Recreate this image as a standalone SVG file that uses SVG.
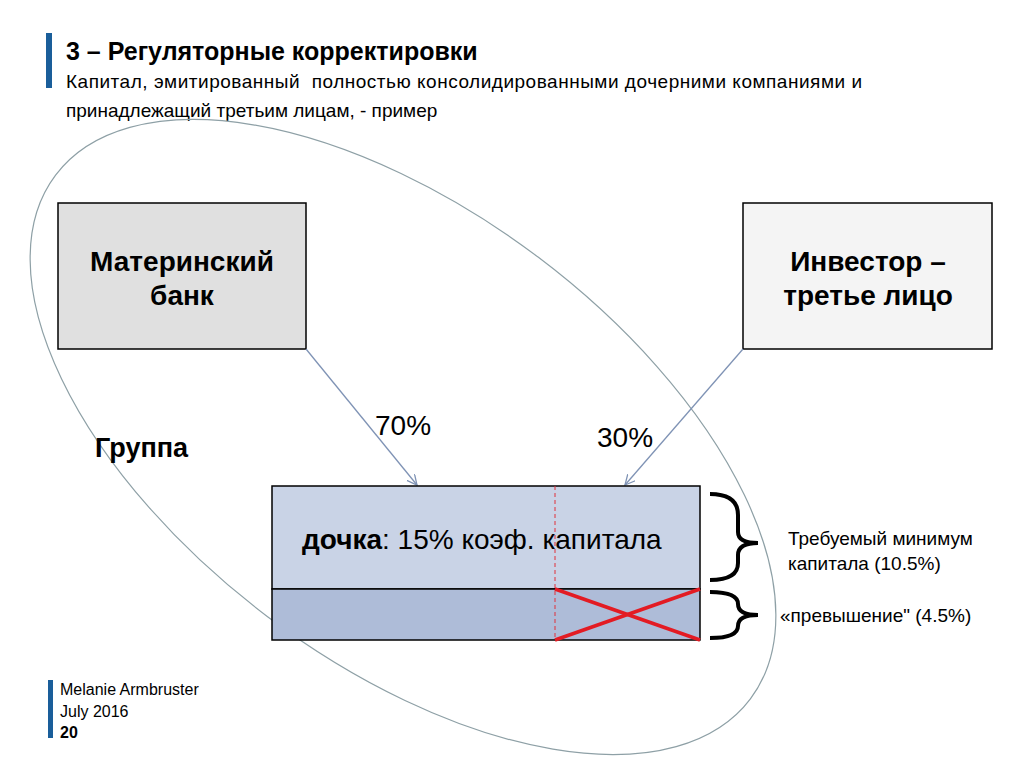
<svg xmlns="http://www.w3.org/2000/svg" width="1024" height="767" viewBox="0 0 1024 767">
<style>
text{font-family:"Liberation Sans",Arial,sans-serif;fill:#000}
.b{font-weight:bold}
.box{stroke:#000;stroke-width:1.5}
.arr{stroke:#7f93b5;stroke-width:1.3;fill:none;marker-end:url(#ah)}
.brace{stroke:#000;stroke-width:4;fill:none}
</style>
<defs><marker id="ah" markerWidth="14" markerHeight="14" refX="10" refY="5" orient="auto" markerUnits="userSpaceOnUse"><path d="M0,0 L10,5 L0,10" fill="none" stroke="#7f93b5" stroke-width="1.3"/></marker></defs>
<rect width="1024" height="767" fill="#fff"/>
<rect x="46" y="33" width="6" height="55" fill="#1a5e9a"/>
<text x="66" y="60" class="b" font-size="25">3 – Регуляторные корректировки</text>
<text x="66" y="88" font-size="19" textLength="796" xml:space="preserve">Капитал, эмитированный  полностью консолидированными дочерними компаниями и</text>
<text x="66" y="117" font-size="19">принадлежащий третьим лицам, - пример</text>
<ellipse cx="403" cy="437" rx="435" ry="225" transform="rotate(37 403 437)" fill="none" stroke="#8ea0a6" stroke-width="1.2"/>
<g id="parent"><rect class="box" x="58" y="203" width="248" height="146" fill="#e0e0e0"/>
<text x="182" y="271" class="b" font-size="28" text-anchor="middle">Материнский</text>
<text x="182" y="305" class="b" font-size="28" text-anchor="middle">банк</text></g>
<g id="investor"><rect class="box" x="743" y="203" width="249" height="146" fill="#f4f4f4"/>
<text x="868" y="271" class="b" font-size="28" text-anchor="middle">Инвестор –</text>
<text x="868" y="305" class="b" font-size="28" text-anchor="middle">третье лицо</text></g>
<text x="95" y="457" class="b" font-size="27">Группа</text>
<g id="connectors">
<line class="arr" x1="306" y1="349" x2="417" y2="485"/>
<line class="arr" x1="743" y1="349" x2="625" y2="485"/>
</g>
<text x="375" y="435" font-size="28">70%</text>
<text x="597" y="447" font-size="28">30%</text>
<g id="daughter">
<rect class="box" x="272" y="486" width="428" height="103" fill="#c9d3e6"/>
<rect class="box" x="272" y="589" width="428" height="51" fill="#aebcd8"/>
<line x1="555" y1="486" x2="555" y2="640" stroke="#e0303a" stroke-width="1" stroke-dasharray="4,3"/>
<line x1="555" y1="589" x2="700" y2="640" stroke="#e31b23" stroke-width="3.5"/>
<line x1="555" y1="640" x2="700" y2="589" stroke="#e31b23" stroke-width="3.5"/>
<text x="302" y="549" font-size="28"><tspan class="b">дочка</tspan>: 15% коэф. капитала</text>
</g>
<path class="brace" d="M710,494 Q738,494 738,515 L738,532 Q738,543 758,543 Q738,543 738,555 L738,563 Q738,580 710,580"/>
<path class="brace" d="M710,592 Q738,592 738,604 Q738,615 758,615 Q738,615 738,626 Q738,638 710,638"/>
<text x="788" y="545" font-size="19">Требуемый минимум</text>
<text x="788" y="570" font-size="19">капитала (10.5%)</text>
<text x="780" y="622" font-size="19">«превышение" (4.5%)</text>
<rect x="48" y="680" width="5" height="58" fill="#1a5e9a"/>
<text x="60" y="695" font-size="16">Melanie Armbruster</text>
<text x="60" y="717" font-size="16">July 2016</text>
<text x="60" y="738" class="b" font-size="16">20</text>
</svg>
